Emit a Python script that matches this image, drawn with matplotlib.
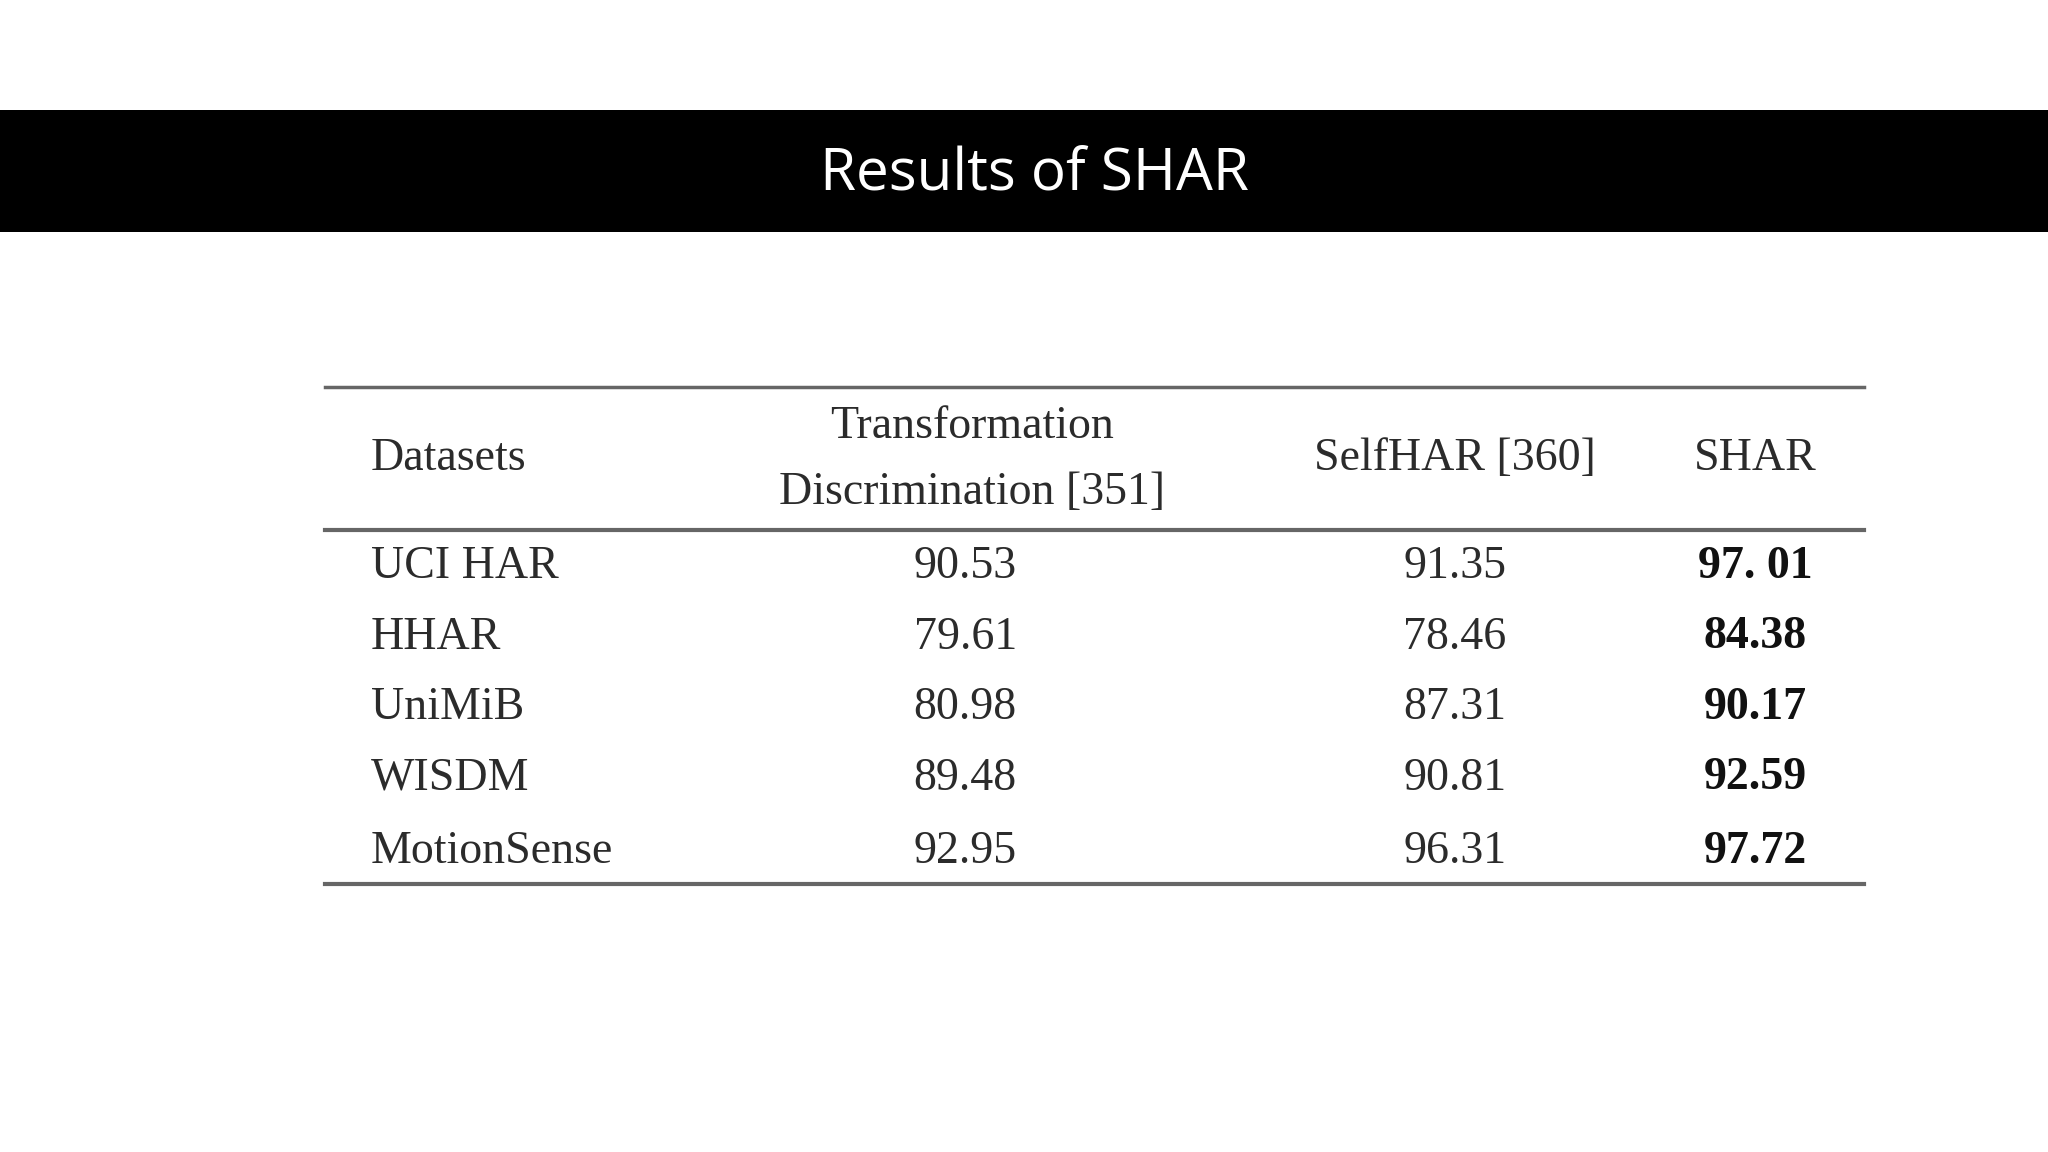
import matplotlib
matplotlib.use("Agg")
import matplotlib.pyplot as plt
from matplotlib.patches import Rectangle
from matplotlib.lines import Line2D

title = "Results of SHAR"
headers = ["Datasets", "Transformation\nDiscrimination [351]", "SelfHAR [360]", "SHAR"]
datasets = ["UCI HAR", "HHAR", "UniMiB", "WISDM", "MotionSense"]
transform_disc = ["90.53", "79.61", "80.98", "89.48", "92.95"]
selfhar = ["91.35", "78.46", "87.31", "90.81", "96.31"]
shar = ["97. 01", "84.38", "90.17", "92.59", "97.72"]

W, H = 1568, 882
fig = plt.figure(figsize=(20.48, 11.52), dpi=100)
fig.patch.set_facecolor("white")
def fx(x): return x / W
def fy(y): return 1 - y / H

fig.patches.append(Rectangle((0, fy(178)), 1, (178 - 84) / H, transform=fig.transFigure,
                             facecolor="black", edgecolor="none"))
fig.text(fx(792), fy(134), title, color="white", fontsize=42, family="Open Sans",
         ha="center", va="center")

serif = "Liberation Serif"
tc = "#2b2b2b"
lc = "#666666"
for y, lw in [(296, 2.5), (406, 3), (677, 3)]:
    fig.add_artist(Line2D([fx(249), fx(1427)], [fy(y), fy(y)], transform=fig.transFigure,
                          color=lc, lw=lw))

fs = 33
fig.text(fx(284), fy(351), headers[0], fontsize=fs, family=serif, color=tc, ha="left", va="center")
fig.text(fx(744), fy(352), headers[1], fontsize=fs, family=serif, color=tc, ha="center",
         va="center", linespacing=1.75)
fig.text(fx(1114), fy(351), headers[2], fontsize=fs, family=serif, color=tc, ha="center", va="center")
fig.text(fx(1344), fy(351), headers[3], fontsize=fs, family=serif, color=tc, ha="center", va="center")

row_y = [434, 488, 542, 596, 652]
for i, y in enumerate(row_y):
    fig.text(fx(284), fy(y), datasets[i], fontsize=fs, family=serif, color=tc, ha="left", va="center")
    fig.text(fx(739), fy(y), transform_disc[i], fontsize=fs, family=serif, color=tc, ha="center", va="center")
    fig.text(fx(1114), fy(y), selfhar[i], fontsize=fs, family=serif, color=tc, ha="center", va="center")
    fig.text(fx(1344), fy(y), shar[i], fontsize=fs, family=serif, color="#111111", ha="center",
             va="center", fontweight="bold")

fig.savefig("out.png", dpi=100)
